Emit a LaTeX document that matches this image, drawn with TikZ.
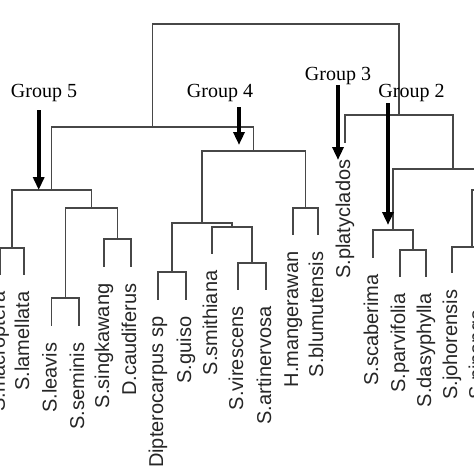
\documentclass[tikz,border=0pt]{standalone}
\usepackage{fontspec}
\setmainfont{Liberation Sans}
\newfontfamily\grpfont{Liberation Serif}
\usetikzlibrary{arrows.meta}
\newcommand\leafnode[4]{\coordinate (#1) at (#2,#3); \node[lab] (#1t) at (#2+5,#3+16.5) {#4};}
\begin{document}
\begin{tikzpicture}[x=1pt,y=-1pt,
  br/.style={draw=black!72, line width=1.2pt},
  lab/.style={rotate=90, anchor=base east, inner sep=0pt, font=\fontsize{20}{24}\selectfont, text=black!85},
  grp/.style={font=\grpfont\fontsize{20}{24}\selectfont, inner sep=0pt, anchor=base},
  garrow/.style={line width=4pt, draw=black, -{Triangle[width=11pt,length=13pt]}}]
\useasboundingbox (0,0) rectangle (474,474);
\fill[white] (0,0) rectangle (474,474);
\clip (0,0) rectangle (474,474);
% leaves
\leafnode{L1}{0}{275}{S.macroptera}
\leafnode{L2}{24}{275}{S.lamellata}
\leafnode{L3}{51.7}{326}{S.leavis}
\leafnode{L4}{79}{326}{S.seminis}
\leafnode{L5}{104}{267}{S.singkawang}
\leafnode{L6}{131}{267}{D.caudiferus}
\leafnode{L7}{158}{300}{Dipterocarpus sp}
\leafnode{L8}{186}{300}{S.guiso}
\leafnode{L9}{212}{254}{S.smithiana}
\leafnode{L10}{238}{290}{S.virescens}
\leafnode{L11}{266}{290}{S.artinervosa}
\leafnode{L12}{293}{235}{H.mangerawan}
\leafnode{L13}{318}{235}{S.blumutensis}
\leafnode{L14}{345}{143}{S.platyclados}
\leafnode{L15}{373}{258}{S.scaberima}
\leafnode{L16}{400}{277}{S.parvifolia}
\leafnode{L17}{426}{277}{S.dasyphylla}
\leafnode{L18}{452}{273}{S.johorensis}
\leafnode{L19}{478}{293}{S.pinanga}
\coordinate (L20) at (506,293);
\coordinate (X1) at (554,300);
% internal nodes
\coordinate (na) at (12,248);
\coordinate (nb) at (65.3,298);
\coordinate (nc) at (117.5,239);
\coordinate (nd) at (91.4,208);
\coordinate (ne) at (51.7,190);
\coordinate (nf) at (172,272);
\coordinate (ng) at (252,263);
\coordinate (nh) at (232,227);
\coordinate (ni) at (202,223);
\coordinate (nj) at (305.5,208);
\coordinate (nk) at (253.7,151);
\coordinate (nl) at (152.7,127);
\coordinate (nm) at (413,250);
\coordinate (nn) at (393,230);
\coordinate (nt) at (492,265);
\coordinate (no) at (472,247);
\coordinate (ns) at (513,190);
\coordinate (nr) at (453,169);
\coordinate (nu) at (399,115);
\coordinate (root) at (276,24);
% branches
\foreach \p/\c in {na/L1,na/L2,nb/L3,nb/L4,nc/L5,nc/L6,nd/nb,nd/nc,ne/na,ne/nd,
  nf/L7,nf/L8,ng/L10,ng/L11,nh/L9,nh/ng,ni/nf,ni/nh,nj/L12,nj/L13,nk/ni,nk/nj,
  nl/ne,nl/nk,nm/L16,nm/L17,nn/L15,nn/nm,nt/L19,nt/L20,no/L18,no/nt,ns/no,ns/X1,
  nr/nn,nr/ns,nu/L14,nu/nr,root/nl,root/nu}
  \draw[br] (\p) -| (\c);
% group labels and arrows
\node[grp] (g5) at (44,97) {Group 5};
\node[grp] (g4) at (220,97) {Group 4};
\node[grp] (g3) at (338,80) {Group 3};
\node[grp] (g2) at (411.5,97) {Group 2};
\coordinate (g5a) at (38.7,110); \coordinate (g5b) at (38.7,190);
\coordinate (g4a) at (239,107); \coordinate (g4b) at (239,145);
\coordinate (g3a) at (338,85); \coordinate (g3b) at (338,160);
\coordinate (g2a) at (388,103); \coordinate (g2b) at (388,225);
\draw[garrow] (g5a) -- (g5b);
\draw[garrow] (g4a) -- (g4b);
\draw[garrow] (g3a) -- (g3b);
\draw[garrow] (g2a) -- (g2b);
\end{tikzpicture}
\end{document}
